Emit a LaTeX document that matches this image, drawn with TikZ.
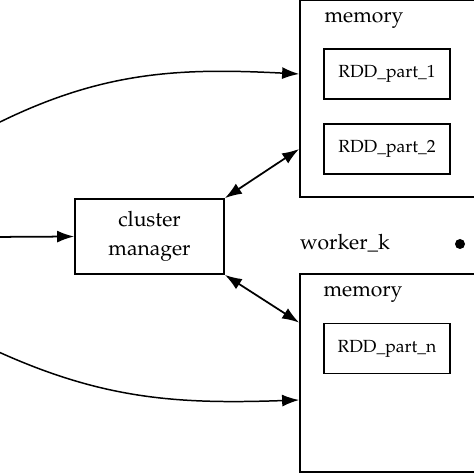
\documentclass[tikz,border=0pt]{standalone}
\usepackage[T1]{fontenc}
\usepackage{mathpazo}
\usetikzlibrary{arrows.meta}

\begin{document}
\begin{tikzpicture}[
  x=0.2mm,y=0.2mm,
  line width=1pt,
  box/.style={draw,inner sep=0pt,align=center},
  memory/.style={box,minimum width=44mm},
  part/.style={box,minimum width=25.2mm,minimum height=10mm,font=\fontsize{10}{12}\selectfont},
  tag/.style={font=\fontsize{12}{16.5}\selectfont},
  dot/.style={circle,fill,inner sep=0pt,minimum size=2mm},
  link/.style={-{Latex[length=3.4mm,width=2.4mm]}},
  duplex/.style={{Latex[length=3.4mm,width=2.4mm]}-{Latex[length=3.4mm,width=2.4mm]}}
]
  \useasboundingbox (0,0) rectangle (474,474);
  \clip (0,0) rectangle (474,474);

  \node[memory,minimum height=39.4mm] (mem-top) at (410,375.5) {};
  \node[memory,minimum height=39.6mm] (mem-bot) at (410,101) {};
  \node[tag] (mem-top-label) at (364,454) {memory};
  \node[tag] (mem-bot-label) at (363,180) {memory};
  \node[part] (part-1) at (387,400) {RDD\_part\_1};
  \node[part] (part-2) at (387,325) {RDD\_part\_2};
  \node[part] (part-n) at (387,125.5) {RDD\_part\_n};

  \node[box,tag,minimum width=29.8mm,minimum height=15mm] (manager) at (149.5,237.5) {cluster\\manager};
  \node[tag] (worker-k) at (345,231) {worker\_k};
  \node[dot] (worker-dot) at (460,230) {};

  \coordinate (src-top) at (-10,347);
  \coordinate (src-mid) at (-10,237);
  \coordinate (src-bot) at (-10,126);

  \draw[link,line width=0.85pt] (src-top) to[out=27,in=177] (mem-top.west |- part-1);
  \draw[link] (src-mid) -- (manager.west);
  \draw[link,line width=0.85pt] (src-bot) to[out=-25,in=182] ([yshift=-5.4mm]mem-bot.west);
  \draw[duplex] (manager.north east) -- (mem-top.west |- part-2);
  \draw[duplex] (manager.south east) -- (mem-bot.west |- part-n.north);
\end{tikzpicture}
\end{document}
